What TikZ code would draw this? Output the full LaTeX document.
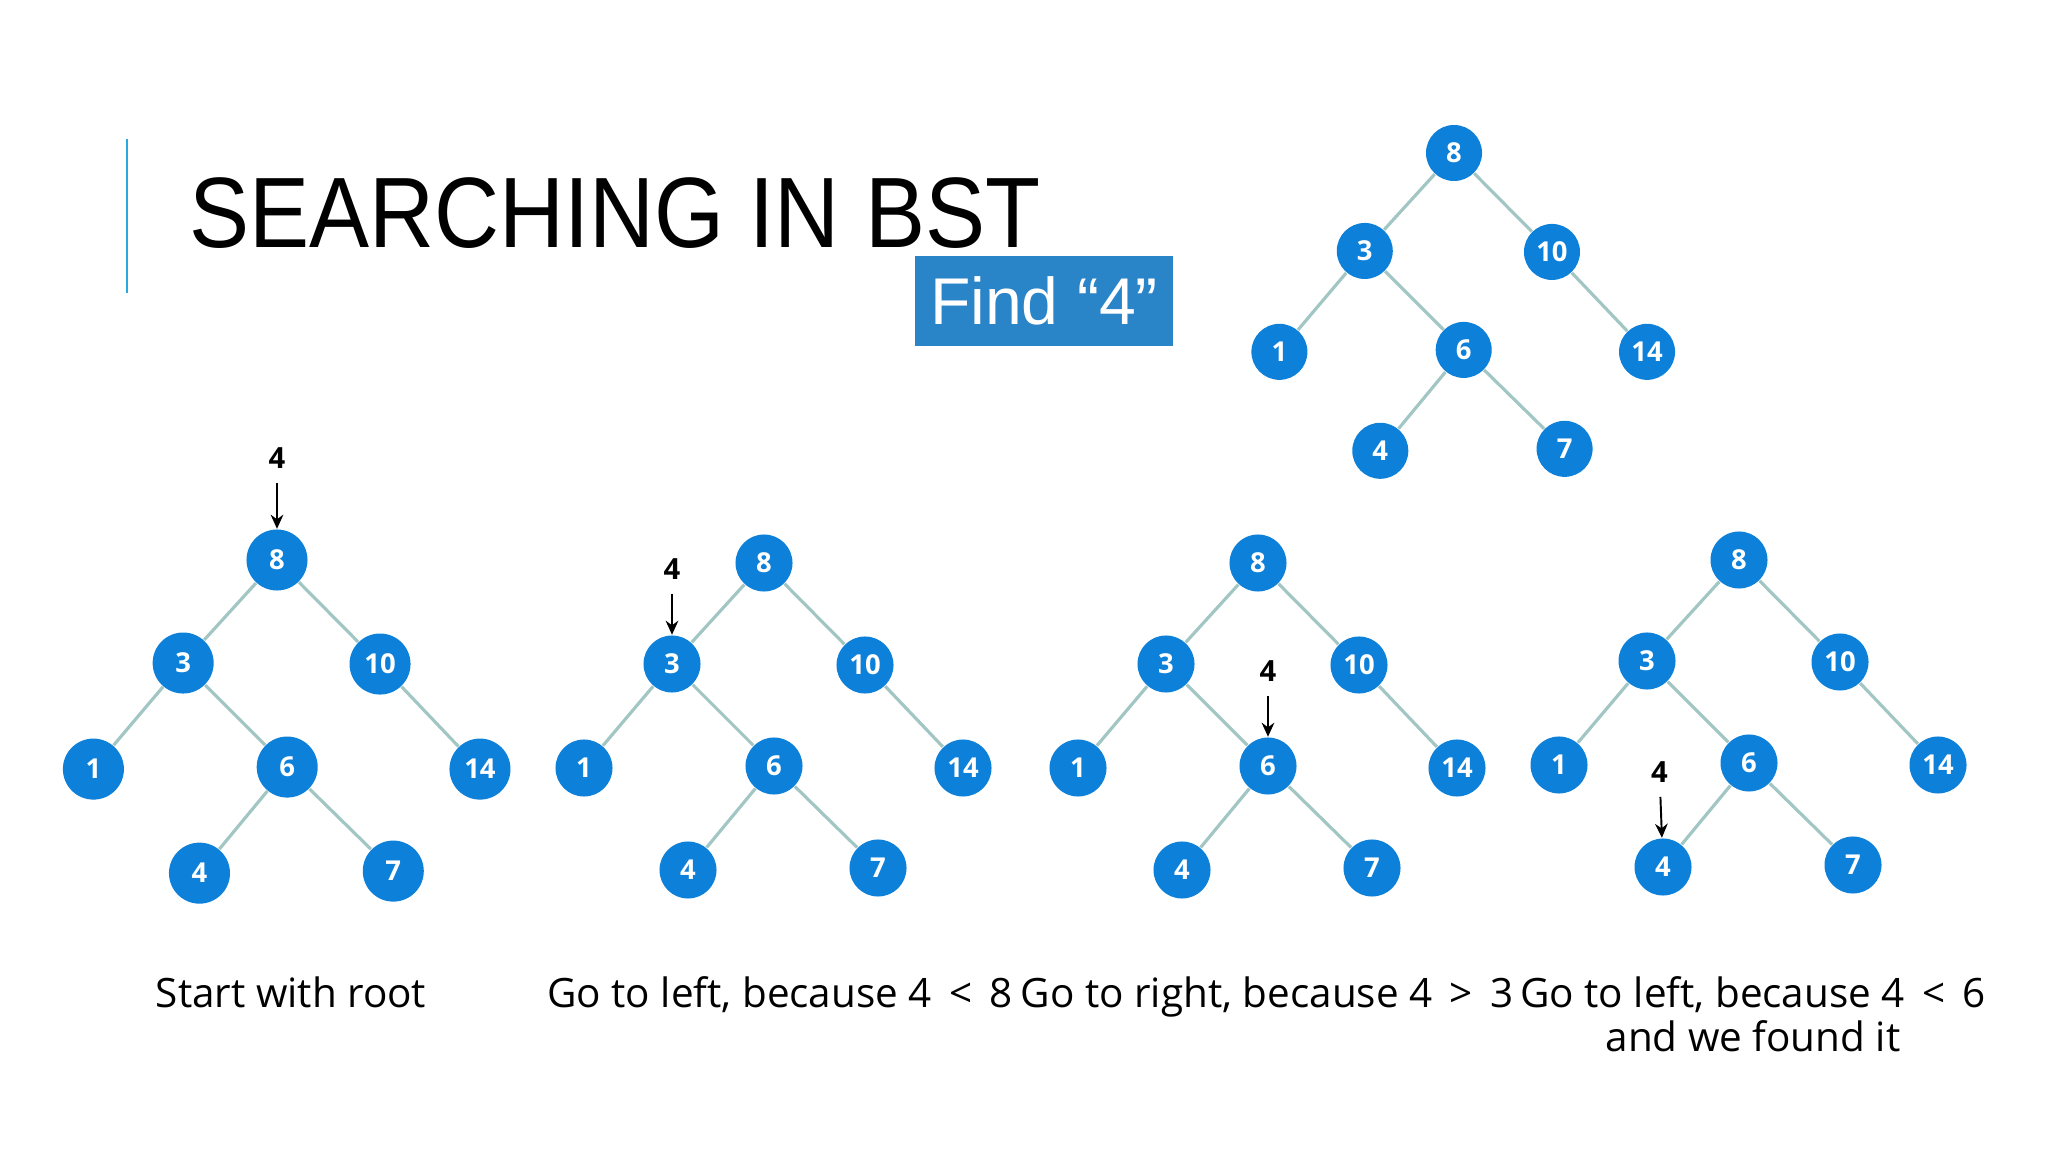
\documentclass[tikz,border=0pt]{standalone}
\usepackage{fontspec}
\setmainfont{Open Sans}
\newfontfamily\titlefont[FakeStretch=0.9]{Liberation Sans}
\newfontfamily\boxfont{Liberation Sans}
\usetikzlibrary{arrows.meta, positioning, calc}

\definecolor{keyblue}{HTML}{0D80DA}
\definecolor{edgegray}{HTML}{A2C6C3}
\definecolor{accentblue}{HTML}{2AA8E0}
\definecolor{findblue}{HTML}{2A84C8}

% one search tree: prefix, root x, root y, spread, node size
\newcommand{\bsttree}[5]{%
  \begin{scope}[every node/.append style={minimum size=#5}]
  \node[keynode] (#1-8) at (#2,#3) {8};
  \node[keynode] (#1-3) at ({#2-92*#4},{#3+101*#4}) {3};
  \node[keynode] (#1-10) at ({#2+101*#4},{#3+102*#4}) {10};
  \node[keynode] (#1-1) at ({#2-180*#4},{#3+205*#4}) {1};
  \node[keynode] (#1-6) at ({#2+10*#4},{#3+203*#4}) {6};
  \node[keynode] (#1-14) at ({#2+199*#4},{#3+205*#4}) {14};
  \node[keynode] (#1-4) at ({#2-76*#4},{#3+307*#4}) {4};
  \node[keynode] (#1-7) at ({#2+114*#4},{#3+305*#4}) {7};
  \end{scope}
  \draw[treeedge] (#1-8) -- (#1-3);
  \draw[treeedge] (#1-8) -- (#1-10);
  \draw[treeedge] (#1-3) -- (#1-1);
  \draw[treeedge] (#1-3) -- (#1-6);
  \draw[treeedge] (#1-10) -- (#1-14);
  \draw[treeedge] (#1-6) -- (#1-4);
  \draw[treeedge] (#1-6) -- (#1-7);
}

\begin{document}
\begin{tikzpicture}[
  x=0.01cm, y=-0.01cm,
  keynode/.style={circle, fill=keyblue, text=white, inner sep=0pt, font=\fontsize{7.8pt}{8pt}\selectfont\bfseries},
  treeedge/.style={draw=edgegray, line width=0.9pt},
  probe/.style={inner sep=0pt, font=\fontsize{8.3pt}{9pt}\selectfont\bfseries},
  probearrow/.style={-{Stealth[length=4pt,width=3.6pt]}, line width=0.55pt, shorten <=4pt},
  caption/.style={anchor=base, align=center, inner sep=0pt, font=\fontsize{11.5pt}{12.5pt}\selectfont}
]
\useasboundingbox (0,0) rectangle (2048,1152);

% Title
\coordinate (bar_top) at (127,139);
\coordinate (bar_bot) at (127,293);
\draw[accentblue, line width=0.85pt] (bar_top) -- (bar_bot);
\node[anchor=base west, inner sep=0pt, font=\titlefont\fontsize{28.45pt}{30pt}\selectfont] (title) at (189,248) {SEARCHING IN BST};
\node[fill=findblue, text=white, minimum width=2.58cm, minimum height=0.89cm, inner sep=0pt,
  font=\boxfont\fontsize{18.8pt}{20pt}\selectfont] (find) at (1044,301) {Find “4”};

% Reference tree
\bsttree{t0}{1454}{153}{0.97}{0.56cm}

% Search steps
\bsttree{t1}{277}{560}{1.02}{0.61cm}
\bsttree{t2}{764}{563}{1.0}{0.57cm}
\bsttree{t3}{1258}{563}{1.0}{0.57cm}
\bsttree{t4}{1739}{560}{1.0}{0.57cm}

\node[probe, above=0.6cm of t1-8] (p1) {4};
\node[probe, above=0.55cm of t2-3] (p2) {4};
\node[probe, above=0.55cm of t3-6] (p3) {4};
\node[probe, above=0.55cm of t4-4, xshift=-1pt] (p4) {4};
\draw[probearrow] (p1) -- (t1-8);
\draw[probearrow] (p2) -- (t2-3);
\draw[probearrow] (p3) -- (t3-6);
\draw[probearrow] (p4) -- (t4-4);

% Captions
\node[caption] (cap1) at (291,1007) {Start with root};
\node[caption] (cap2) at (780,1007) {Go to left, because 4 \thinspace< \thinspace8};
\node[caption] (cap3) at (1267,1007) {Go to right, because 4 \thinspace> \thinspace3};
\node[caption] (cap4) at (1753,1051) {Go to left, because 4 \thinspace< \thinspace6\\and we found it};

\end{tikzpicture}
\end{document}
